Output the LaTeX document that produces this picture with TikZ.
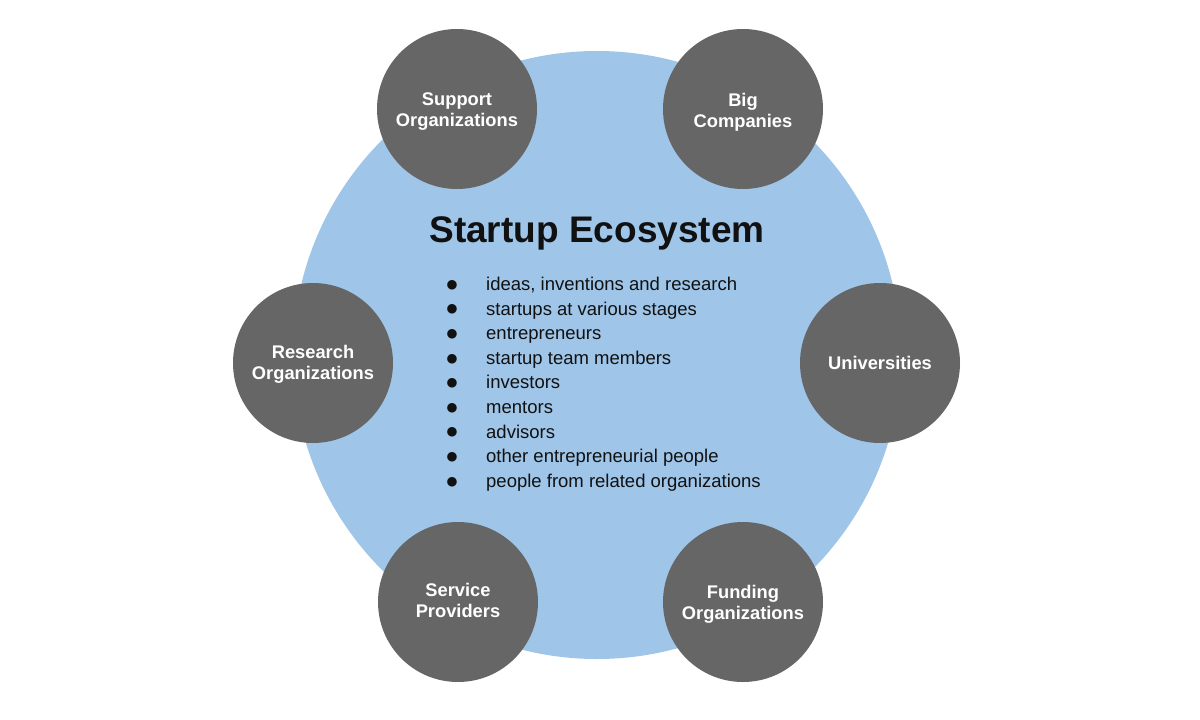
\documentclass[tikz,border=0pt]{standalone}
\usepackage{fontspec}
\setmainfont{Liberation Sans}
\newfontfamily\symfont{DejaVu Sans}
\definecolor{ecoblue}{HTML}{9FC5E8}
\definecolor{orggray}{HTML}{666666}
\definecolor{inktext}{HTML}{111111}
\tikzset{
  ecosys/.style={circle, fill=ecoblue, draw=none, minimum size=608pt, inner sep=0pt},
  org/.style={circle, fill=orggray, draw=none, minimum size=160pt, inner sep=0pt},
  orglabel/.style={text=white, align=center, inner sep=0pt,
    font=\fontsize{18.3}{21}\selectfont\bfseries},
  titletext/.style={anchor=base, text=inktext, font=\fontsize{37}{40}\selectfont\bfseries, inner sep=0pt},
  itemtext/.style={anchor=base west, text=inktext, font=\fontsize{18.5}{22}\selectfont, inner sep=0pt},
  bulletmark/.style={anchor=center, text=inktext, font=\fontsize{12.5}{14}\symfont, inner sep=0pt}
}
\begin{document}
\begin{tikzpicture}[x=1pt,y=-1pt]
\path[use as bounding box, fill=white] (0,0) rectangle (1200,720);
\node[ecosys] (eco) at (597,355) {};
\node[org] (support) at (457,109) {};
\node[org] (bigco) at (743,109) {};
\node[org] (research) at (313,363) {};
\node[org] (univ) at (880,363) {};
\node[org] (service) at (458,602) {};
\node[org] (funding) at (743,602) {};
\node[orglabel, yshift=-3pt] (supportlab) at (support) {Support\\Organizations};
\node[orglabel, yshift=-3pt] (bigcolab) at (bigco) {Big\\Companies};
\node[orglabel, yshift=-1pt] (researchlab) at (research) {Research\\Organizations};
\node[orglabel, yshift=0pt] (univlab) at (univ) {Universities};
\node[orglabel, yshift=2pt] (servicelab) at (service) {Service\\Providers};
\node[orglabel, yshift=-2pt] (fundinglab) at (funding) {Funding\\Organizations};
\node[titletext] (title) at (597,242) {Startup Ecosystem};
\foreach \t [count=\i from 0] in {{ideas, inventions and research},
  startups at various stages, entrepreneurs, startup team members,
  investors, mentors, advisors, other entrepreneurial people,
  people from related organizations}{
  \node[bulletmark] (b\i) at (452,{285+24.6*\i}) {●};
  \node[itemtext] (t\i) at (486,{290.5+24.6*\i}) {\t};
}
\end{tikzpicture}
\end{document}
